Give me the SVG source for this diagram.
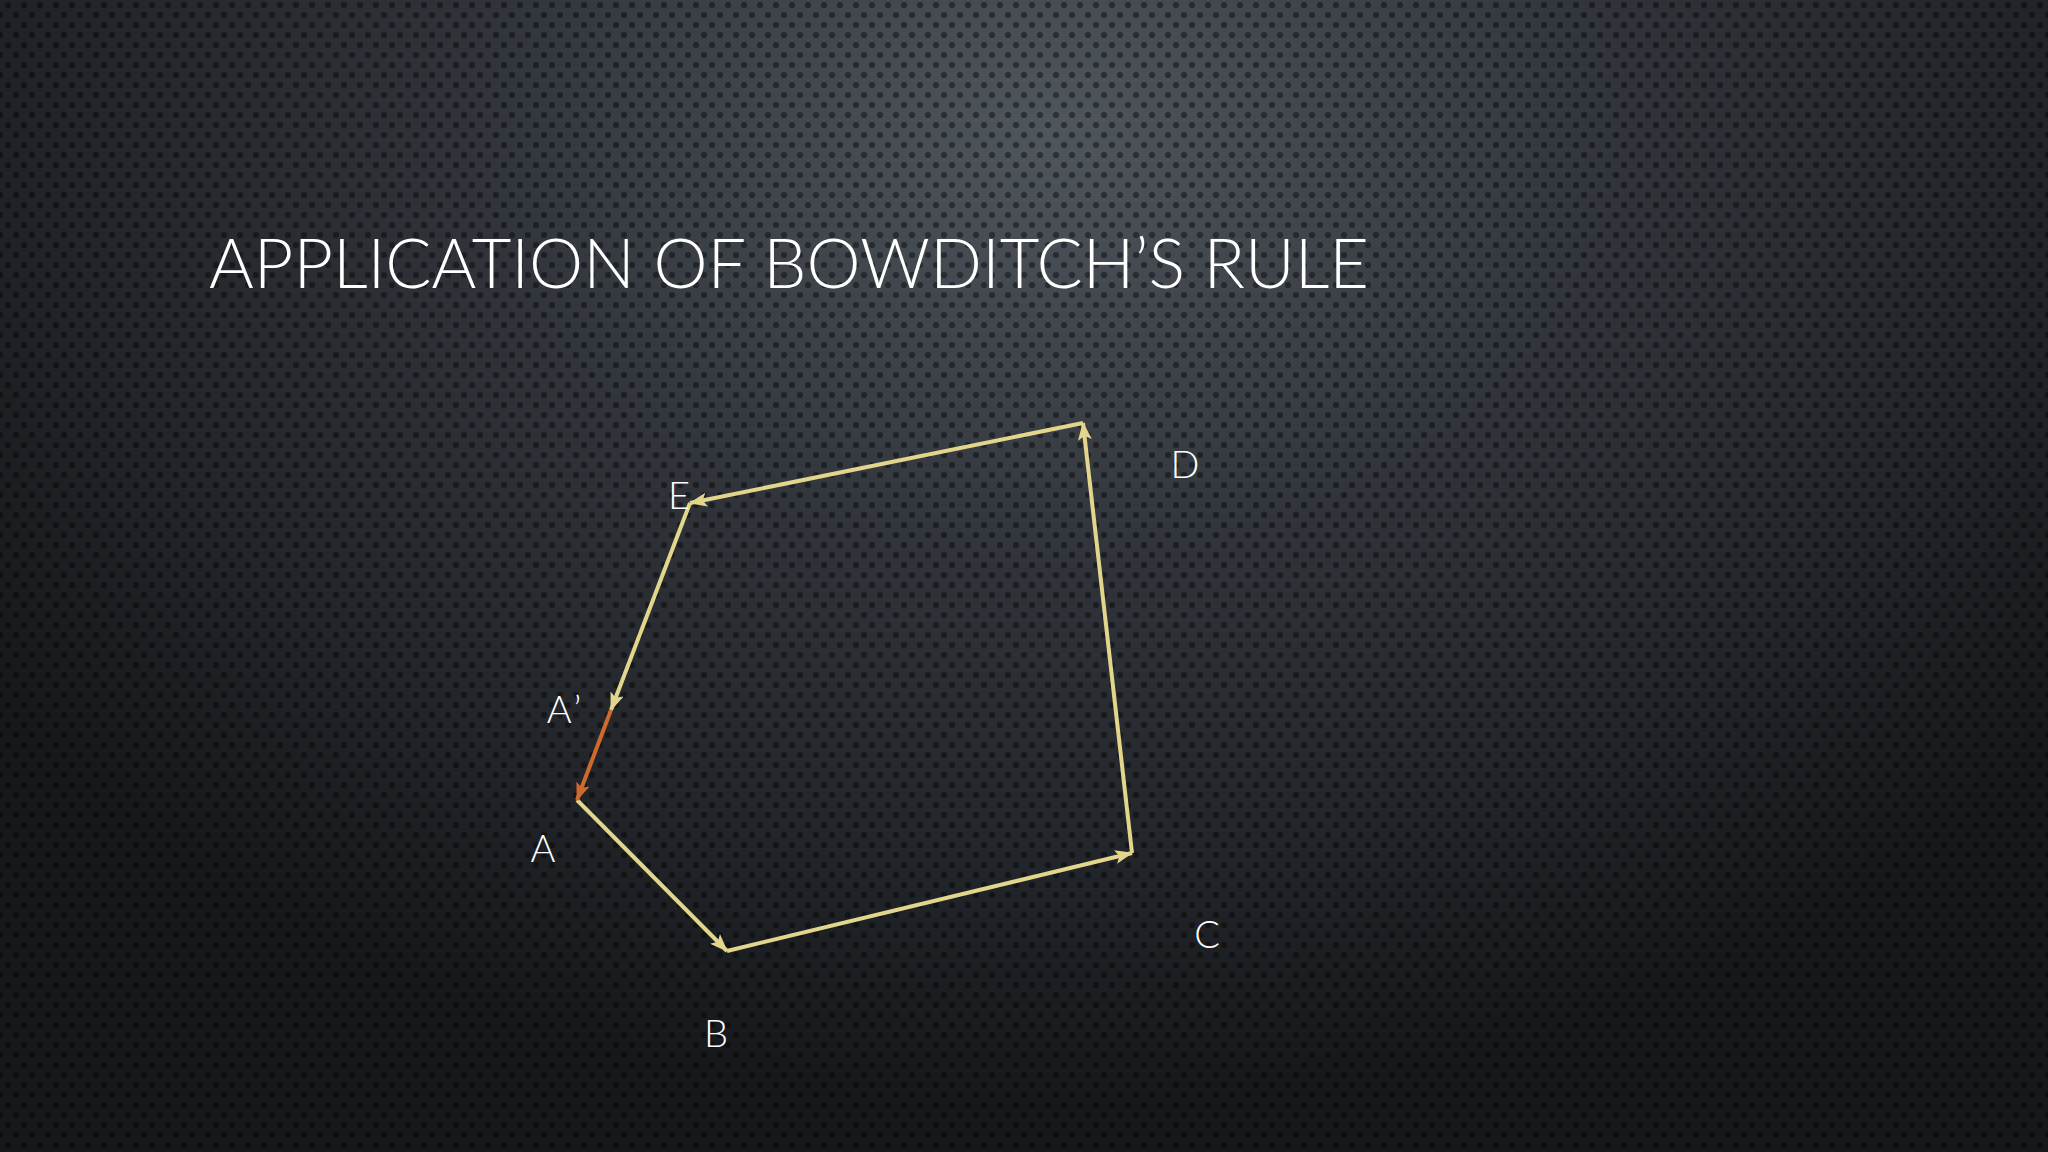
<svg xmlns="http://www.w3.org/2000/svg" width="2048" height="1152" viewBox="0 0 2048 1152">
<defs>
<radialGradient id="bg" cx="1050" cy="130" r="1300" gradientUnits="userSpaceOnUse" gradientTransform="translate(1050 130) scale(1 0.75) translate(-1050 -130)">
<stop offset="0" stop-color="#50565e"/>
<stop offset="0.45" stop-color="#30343a"/>
<stop offset="1" stop-color="#16181b"/>
</radialGradient>
<pattern id="dots" width="16" height="20" patternUnits="userSpaceOnUse">
<circle cx="8" cy="5" r="3.1" fill="#000" fill-opacity="0.42"/>
<circle cx="0" cy="15" r="3.1" fill="#000" fill-opacity="0.42"/>
<circle cx="16" cy="15" r="3.1" fill="#000" fill-opacity="0.42"/>
</pattern>
<marker id="ay" markerUnits="userSpaceOnUse" markerWidth="20" markerHeight="16" refX="17" refY="8" orient="auto">
<path d="M0,1 L18,8 L0,15 L4,8 Z" fill="#e2d68c"/>
</marker>
<marker id="ao" markerUnits="userSpaceOnUse" markerWidth="20" markerHeight="16" refX="17" refY="8" orient="auto">
<path d="M0,1 L18,8 L0,15 L4,8 Z" fill="#cf6a2c"/>
</marker>
</defs>
<style>
.lbl{font-family:Lato,"Liberation Sans",sans-serif;font-weight:300;font-size:38px;fill:#ffffff}
.seg{stroke:#e2d68c;stroke-width:4;fill:none;marker-end:url(#ay)}
.segO{stroke:#cf6a2c;stroke-width:4;fill:none;marker-end:url(#ao)}
</style>
<rect width="2048" height="1152" fill="url(#bg)"/>
<rect width="2048" height="1152" fill="url(#dots)"/>
<text x="209" y="288" font-family="Lato,'Liberation Sans',sans-serif" font-weight="300" font-size="68" fill="#ffffff" textLength="1160" lengthAdjust="spacingAndGlyphs">APPLICATION OF BOWDITCH’S RULE</text>
<g id="connectors">
<line class="seg" x1="577" y1="800" x2="727" y2="951"/>
<line class="seg" x1="727" y1="951" x2="1132" y2="853"/>
<line class="seg" x1="1132" y1="853" x2="1083" y2="423"/>
<line class="seg" x1="1083" y1="423" x2="690" y2="503"/>
<line class="seg" x1="690" y1="503" x2="611" y2="710"/>
<line class="segO" x1="611" y1="710" x2="577" y2="800"/>
</g>
<g id="node-A"><text class="lbl" x="543" y="862" text-anchor="middle">A</text></g>
<g id="node-A-prime"><text class="lbl" x="566" y="723" text-anchor="middle" letter-spacing="4">A’</text></g>
<g id="node-B"><text class="lbl" x="716" y="1047" text-anchor="middle">B</text></g>
<g id="node-C"><text class="lbl" x="1207" y="948" text-anchor="middle">C</text></g>
<g id="node-D"><text class="lbl" x="1185" y="478" text-anchor="middle">D</text></g>
<g id="node-E"><text class="lbl" x="679" y="509" text-anchor="middle">E</text></g>
</svg>
